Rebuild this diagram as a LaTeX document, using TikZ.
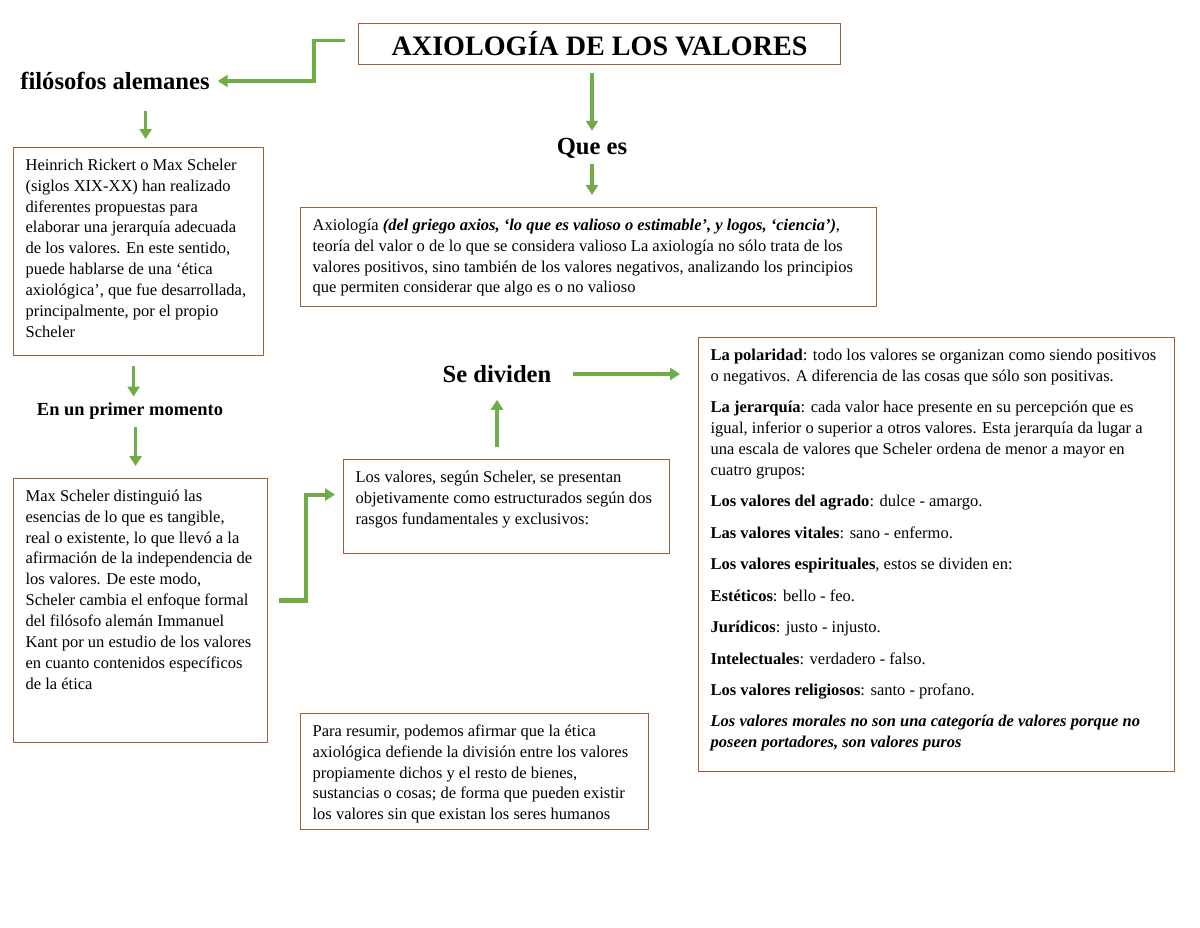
\documentclass[tikz,border=0pt]{standalone}
\usepackage{fontspec}
\setmainfont{Liberation Serif}
\usetikzlibrary{arrows.meta}
\definecolor{verde}{HTML}{70AD47}
\definecolor{marron}{HTML}{A0603A}
\def\caja#1#2#3{\parbox[c][#2][t]{#1}{\fontsize{9.4}{11.9}\selectfont\begin{tabular}[t]{@{}l@{}}#3\end{tabular}}}
\tikzset{
  caja/.style={draw=marron, line width=0.7pt, inner xsep=0.24cm, inner ysep=0.16cm, anchor=north west},
  rotulo/.style={font=\bfseries\fontsize{14}{16}\selectfont, inner sep=1pt},
  link/.style={draw=verde, line width=1.8pt, -{Triangle[length=0.2cm,width=0.24cm]}},
}
\begin{document}
\begin{tikzpicture}[x=0.02cm, y=-0.02cm]
			%%%%% START %%%%%
			\useasboundingbox (0,0) rectangle (1200,927);
			
			\node[caja, minimum width=9.64cm, minimum height=0.78cm, font=\bfseries\fontsize{16}{18}\selectfont] (titulo) at (358,23) {AXIOLOGÍA DE LOS VALORES};
			
			\node[rotulo] (filosofos) at (115,81) {filósofos alemanes};
			\node[rotulo] (quees) at (592,148) {Que es};
			\node[rotulo] (sedividen) at (497,374) {Se dividen};
			\node[rotulo, font=\bfseries\fontsize{10.5}{12}\selectfont] (primer) at (130,411) {En un primer momento};
			
			\node[caja] (rickert) at (13,147) {\caja{4.52cm}{3.84cm}{%
				Heinrich Rickert o Max Scheler\\
				(siglos XIX-XX) han realizado\\
				diferentes propuestas para\\
				elaborar una jerarquía adecuada\\
				de los valores. En este sentido,\\
				puede hablarse de una ‘ética\\
				axiológica’, que fue desarrollada,\\
				principalmente, por el propio\\
				Scheler}};
			
			\node[caja] (axiologia) at (300,207) {\caja{11.04cm}{1.66cm}{%
				Axiología \textbf{\textit{(del griego axios, ‘lo que es valioso o estimable’, y logos, ‘ciencia’)}},\\
				teoría del valor o de lo que se considera valioso La axiología no sólo trata de los\\
				valores positivos, sino también de los valores negativos, analizando los principios\\
				que permiten considerar que algo es o no valioso}};
			
			\node[caja] (polaridad) at (698,337) {\caja{9.04cm}{8.36cm}{%
				\textbf{La polaridad}: todo los valores se organizan como siendo positivos\\
				o negativos. A diferencia de las cosas que sólo son positivas.\\[6pt]
				\textbf{La jerarquía}: cada valor hace presente en su percepción que es\\
				igual, inferior o superior a otros valores. Esta jerarquía da lugar a\\
				una escala de valores que Scheler ordena de menor a mayor en\\
				cuatro grupos:\\[6pt]
				\textbf{Los valores del agrado}: dulce - amargo.\\[6pt]
				\textbf{Las valores vitales}: sano - enfermo.\\[6pt]
				\textbf{Los valores espirituales}, estos se dividen en:\\[6pt]
				\textbf{Estéticos}: bello - feo.\\[6pt]
				\textbf{Jurídicos}: justo - injusto.\\[6pt]
				\textbf{Intelectuales}: verdadero - falso.\\[6pt]
				\textbf{Los valores religiosos}: santo - profano.\\[6pt]
				\textbf{\textit{Los valores morales no son una categoría de valores porque no}}\\
				\textbf{\textit{poseen portadores, son valores puros}}}};
			
			\node[caja] (scheler) at (13,478) {\caja{4.6cm}{4.96cm}{%
				Max Scheler distinguió las\\
				esencias de lo que es tangible,\\
				real o existente, lo que llevó a la\\
				afirmación de la independencia de\\
				los valores. De este modo,\\
				Scheler cambia el enfoque formal\\
				del filósofo alemán Immanuel\\
				Kant por un estudio de los valores\\
				en cuanto contenidos específicos\\
				de la ética}};
			
			\node[caja] (valores) at (343,459) {\caja{6.04cm}{1.56cm}{%
				Los valores, según Scheler, se presentan\\
				objetivamente como estructurados según dos\\
				rasgos fundamentales y exclusivos:}};
			
			\node[caja] (resumir) at (300,713) {\caja{6.48cm}{2.0cm}{%
				Para resumir, podemos afirmar que la ética\\
				axiológica defiende la división entre los valores\\
				propiamente dichos y el resto de bienes,\\
				sustancias o cosas; de forma que pueden existir\\
				los valores sin que existan los seres humanos}};
			
			% flechas
			\draw[link, shorten <=0.26cm] ([yshift=0.06cm]titulo.west) -- ++(-44,0) |- ([xshift=0.12cm]filosofos.east);
			\draw[link, shorten <=0.38cm, shorten >=0.16cm] ([xshift=0.14cm]rickert.north |- filosofos.south) -- ([xshift=0.14cm]rickert.north);
			\draw[link, shorten <=0.16cm, shorten >=0.1cm] (titulo.south -| quees.north) -- (quees.north);
			\draw[link, shorten <=0.08cm, shorten >=0.24cm] (quees.south) -- (quees.south |- axiologia.north);
			\draw[link, shorten <=0.2cm, shorten >=0.08cm] ([xshift=-0.1cm]rickert.south) -- ([xshift=-0.1cm]rickert.south |- primer.north);
			\draw[link, shorten <=0.12cm, shorten >=0.24cm] ([xshift=-0.1cm]scheler.north |- primer.south) -- ([xshift=-0.1cm]scheler.north);
			\draw[link, line width=2.4pt, shorten <=0.22cm] ([yshift=0.2cm]scheler.east) -- ++(38,0) |- ([xshift=-0.16cm, yshift=0.24cm]valores.west);
			\draw[link, shorten <=0.24cm, shorten >=0.3cm] (sedividen.south |- valores.north) -- (sedividen.south);
			\draw[link, shorten <=0.4cm, shorten >=0.36cm] (sedividen.east) -- (sedividen.east -| polaridad.west);
			
			%%%%% END %%%%%
\end{tikzpicture}
\end{document}
